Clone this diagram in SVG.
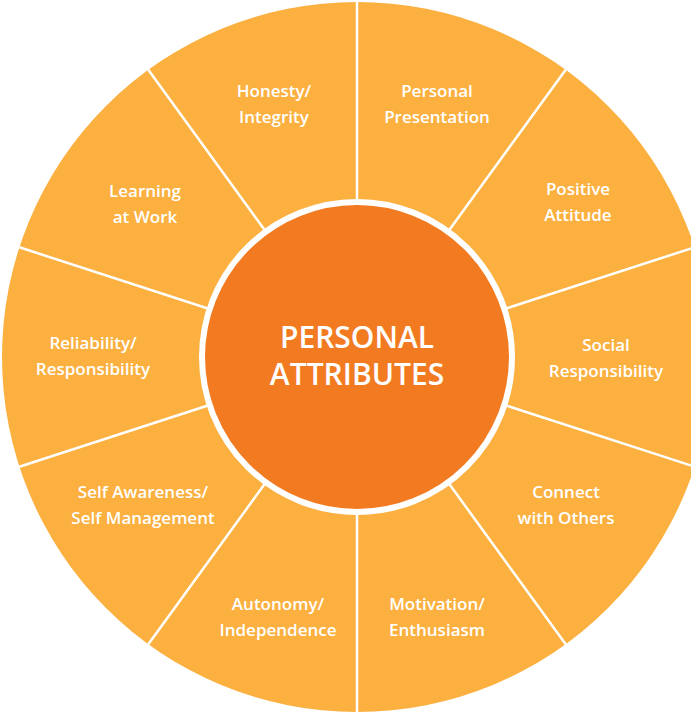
<svg xmlns="http://www.w3.org/2000/svg" width="691" height="714" viewBox="0 0 691 714">
<style>
.l{font-family:"Open Sans","Liberation Sans",sans-serif;font-weight:600;font-size:17px;fill:#fff;text-anchor:middle}
.c{font-family:"Open Sans","Liberation Sans",sans-serif;font-weight:600;font-size:30px;fill:#fff;text-anchor:middle}
.d{stroke:#fff;stroke-width:2.5}
</style>
<rect width="691" height="714" fill="#fff"/>
<circle cx="357" cy="357" r="355" fill="#FBB040"/>
<g id="connectors">
<line class="d" x1="357" y1="357" x2="357" y2="0"/>
<line class="d" x1="357" y1="357" x2="148.3" y2="69.8"/>
<line class="d" x1="357" y1="357" x2="19.4" y2="247.3"/>
<line class="d" x1="357" y1="357" x2="19.4" y2="466.7"/>
<line class="d" x1="357" y1="357" x2="148.3" y2="644.2"/>
<line class="d" x1="357" y1="357" x2="357" y2="714"/>
<line class="d" x1="357" y1="357" x2="565.7" y2="644.2"/>
<line class="d" x1="357" y1="357" x2="694.6" y2="466.7"/>
<line class="d" x1="357" y1="357" x2="694.6" y2="247.3"/>
<line class="d" x1="357" y1="357" x2="565.7" y2="69.8"/>
</g>
<g id="center"><circle cx="357" cy="357" r="155" fill="#F27B22" stroke="#fff" stroke-width="6"/>
<text class="c" x="357" y="348">PERSONAL</text><text class="c" x="357" y="385">ATTRIBUTES</text></g>
<g id="n1"><text class="l" x="274" y="97">Honesty/</text><text class="l" x="274" y="123">Integrity</text></g>
<g id="n2"><text class="l" x="437" y="97">Personal</text><text class="l" x="437" y="123">Presentation</text></g>
<g id="n3"><text class="l" x="578" y="195">Positive</text><text class="l" x="578" y="221">Attitude</text></g>
<g id="n4"><text class="l" x="606" y="351">Social</text><text class="l" x="606" y="377">Responsibility</text></g>
<g id="n5"><text class="l" x="566" y="498">Connect</text><text class="l" x="566" y="524">with Others</text></g>
<g id="n6"><text class="l" x="437" y="610">Motivation/</text><text class="l" x="437" y="636">Enthusiasm</text></g>
<g id="n7"><text class="l" x="278" y="610">Autonomy/</text><text class="l" x="278" y="636">Independence</text></g>
<g id="n8"><text class="l" x="143" y="498">Self Awareness/</text><text class="l" x="143" y="524">Self Management</text></g>
<g id="n9"><text class="l" x="93" y="349">Reliability/</text><text class="l" x="93" y="375">Responsibility</text></g>
<g id="n10"><text class="l" x="145" y="197">Learning</text><text class="l" x="145" y="223">at Work</text></g>
</svg>
